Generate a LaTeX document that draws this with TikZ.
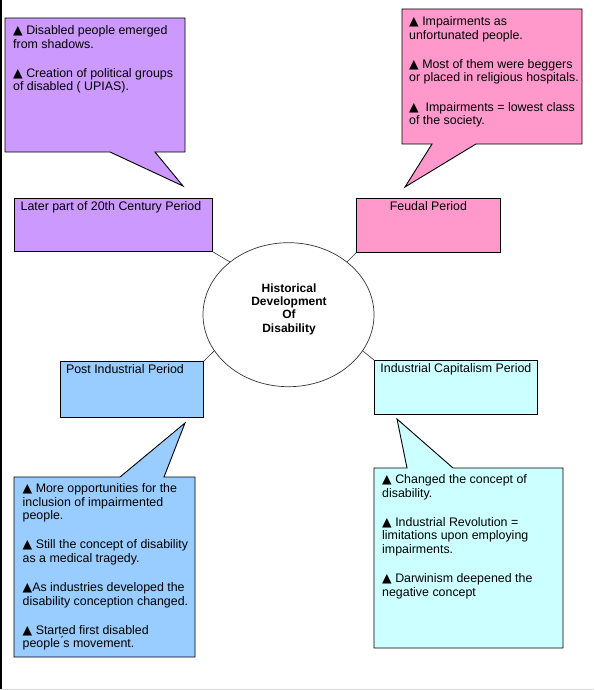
\documentclass[tikz,border=0pt]{standalone}
\usepackage{fontspec}
\usetikzlibrary{shapes.geometric}
\setmainfont{Liberation Sans}
\newfontfamily\symfont{DejaVu Sans}
\definecolor{cpurple}{HTML}{CC99FF}
\definecolor{cpink}{HTML}{FF99CC}
\definecolor{cblue}{HTML}{99CCFF}
\definecolor{ccyan}{HTML}{CCFFFF}
\newcommand{\tri}{{\symfont\fontsize{12.5}{13}\selectfont▲}}
\tikzset{
  callout/.style={draw=black, line width=0.9pt, line join=miter},
  periodbox/.style={draw=black, line width=0.9pt, anchor=north west, inner sep=0pt},
  boxtext/.style={anchor=north west, inner sep=0pt, align=left, font=\fontsize{12.4}{13.6}\selectfont},
  titletext/.style={anchor=north, inner sep=0pt, font=\fontsize{12.4}{13}\selectfont},
  link/.style={draw=black!80, line width=0.6pt},
}
\begin{document}
\begin{tikzpicture}[x=1pt,y=-1pt]
\useasboundingbox (0,0) rectangle (594,690);
\draw[line width=1.5pt] (0.75,0) -- (0.75,690);
\draw[black!15, line width=0.6pt] (0,689) -- (594,689);

% central ellipse
\node (ell) [draw=black!80, ellipse, line width=0.7pt, minimum width=171pt, minimum height=144pt, inner sep=0pt] at (288.5,314.7) {};
\node (ellT) [align=center, inner sep=0pt, font=\bfseries\fontsize{12}{13.3}\selectfont] at (289,309) {Historical\\Development\\Of\\Disability};

% period boxes
\node (later) [periodbox, fill=cpurple, minimum width=198pt, minimum height=53pt] at (14,198) {};
\node (feudal) [periodbox, fill=cpink, minimum width=144pt, minimum height=54pt] at (356,198) {};
\node (post) [periodbox, fill=cblue, minimum width=143pt, minimum height=56pt] at (60,361) {};
\node (indus) [periodbox, fill=ccyan, minimum width=163pt, minimum height=54pt] at (374,360) {};

\node (laterT) [titletext, xshift=-2.5pt] at ([yshift=-3.5pt]later.north) {Later part of 20th Century Period};
\node (feudalT) [titletext] at ([yshift=-3.5pt]feudal.north) {Feudal Period};
\node (postT) [titletext, xshift=-7pt] at ([yshift=-3.5pt]post.north) {Post Industrial Period};
\node (indusT) [titletext] at ([yshift=-3.5pt]indus.north) {Industrial Capitalism Period};

% connectors
\draw[link] (later.south east) -- (ell.138);
\draw[link] (feudal.south west) -- (ell.42.5);
\draw[link] (post.north east) -- (ell.206);
\draw[link] (indus.north west) -- (ell.334);

% callouts
\draw[callout, fill=cpurple] (5,18) -- (185,18) -- (185,152) -- (155,152) -- (183,186) -- (110,152) -- (5,152) -- cycle;
\draw[callout, fill=cpink] (402,9) -- (582,9) -- (582,144) -- (476,144) -- (405,187) -- (432,144) -- (402,144) -- cycle;
\draw[callout, fill=cblue] (14,477) -- (120,477) -- (185,423) -- (164,477) -- (195,477) -- (195,657) -- (14,657) -- cycle;
\draw[callout, fill=ccyan] (374,468) -- (407,468) -- (397,419) -- (453,468) -- (563,468) -- (563,648) -- (374,648) -- cycle;

\node (laterC) [boxtext] at (13,25.5) {\tri\ Disabled people emerged\\from shadows.\\[15.5pt]\tri\ Creation of political groups\\of disabled ( UPIAS).};
\node (feudalC) [boxtext] at (409,16.5) {\tri\ Impairments as\\unfortunated people.\\[15.5pt]\tri\ Most of them were beggers\\or placed in religious hospitals.\\[15.5pt]\tri\ \ Impairments = lowest class\\of the society.};
\node (postC) [boxtext] at (22.5,483.5) {\tri\ More opportunities for the\\inclusion of impairmented\\people.\\[15.5pt]\tri\ Still the concept of disability\\as a medical tragedy.\\[15.5pt]\tri As industries developed the\\disability conception changed.\\[15.5pt]\tri\ Started first disabled\\people\'{}s movement.};
\node (indusC) [boxtext] at (382,474.5) {\tri\ Changed the concept of\\disability.\\[15.5pt]\tri\ Industrial Revolution =\\limitations upon employing\\impairments.\\[15.5pt]\tri\ Darwinism deepened the\\negative concept};
\end{tikzpicture}
\end{document}
